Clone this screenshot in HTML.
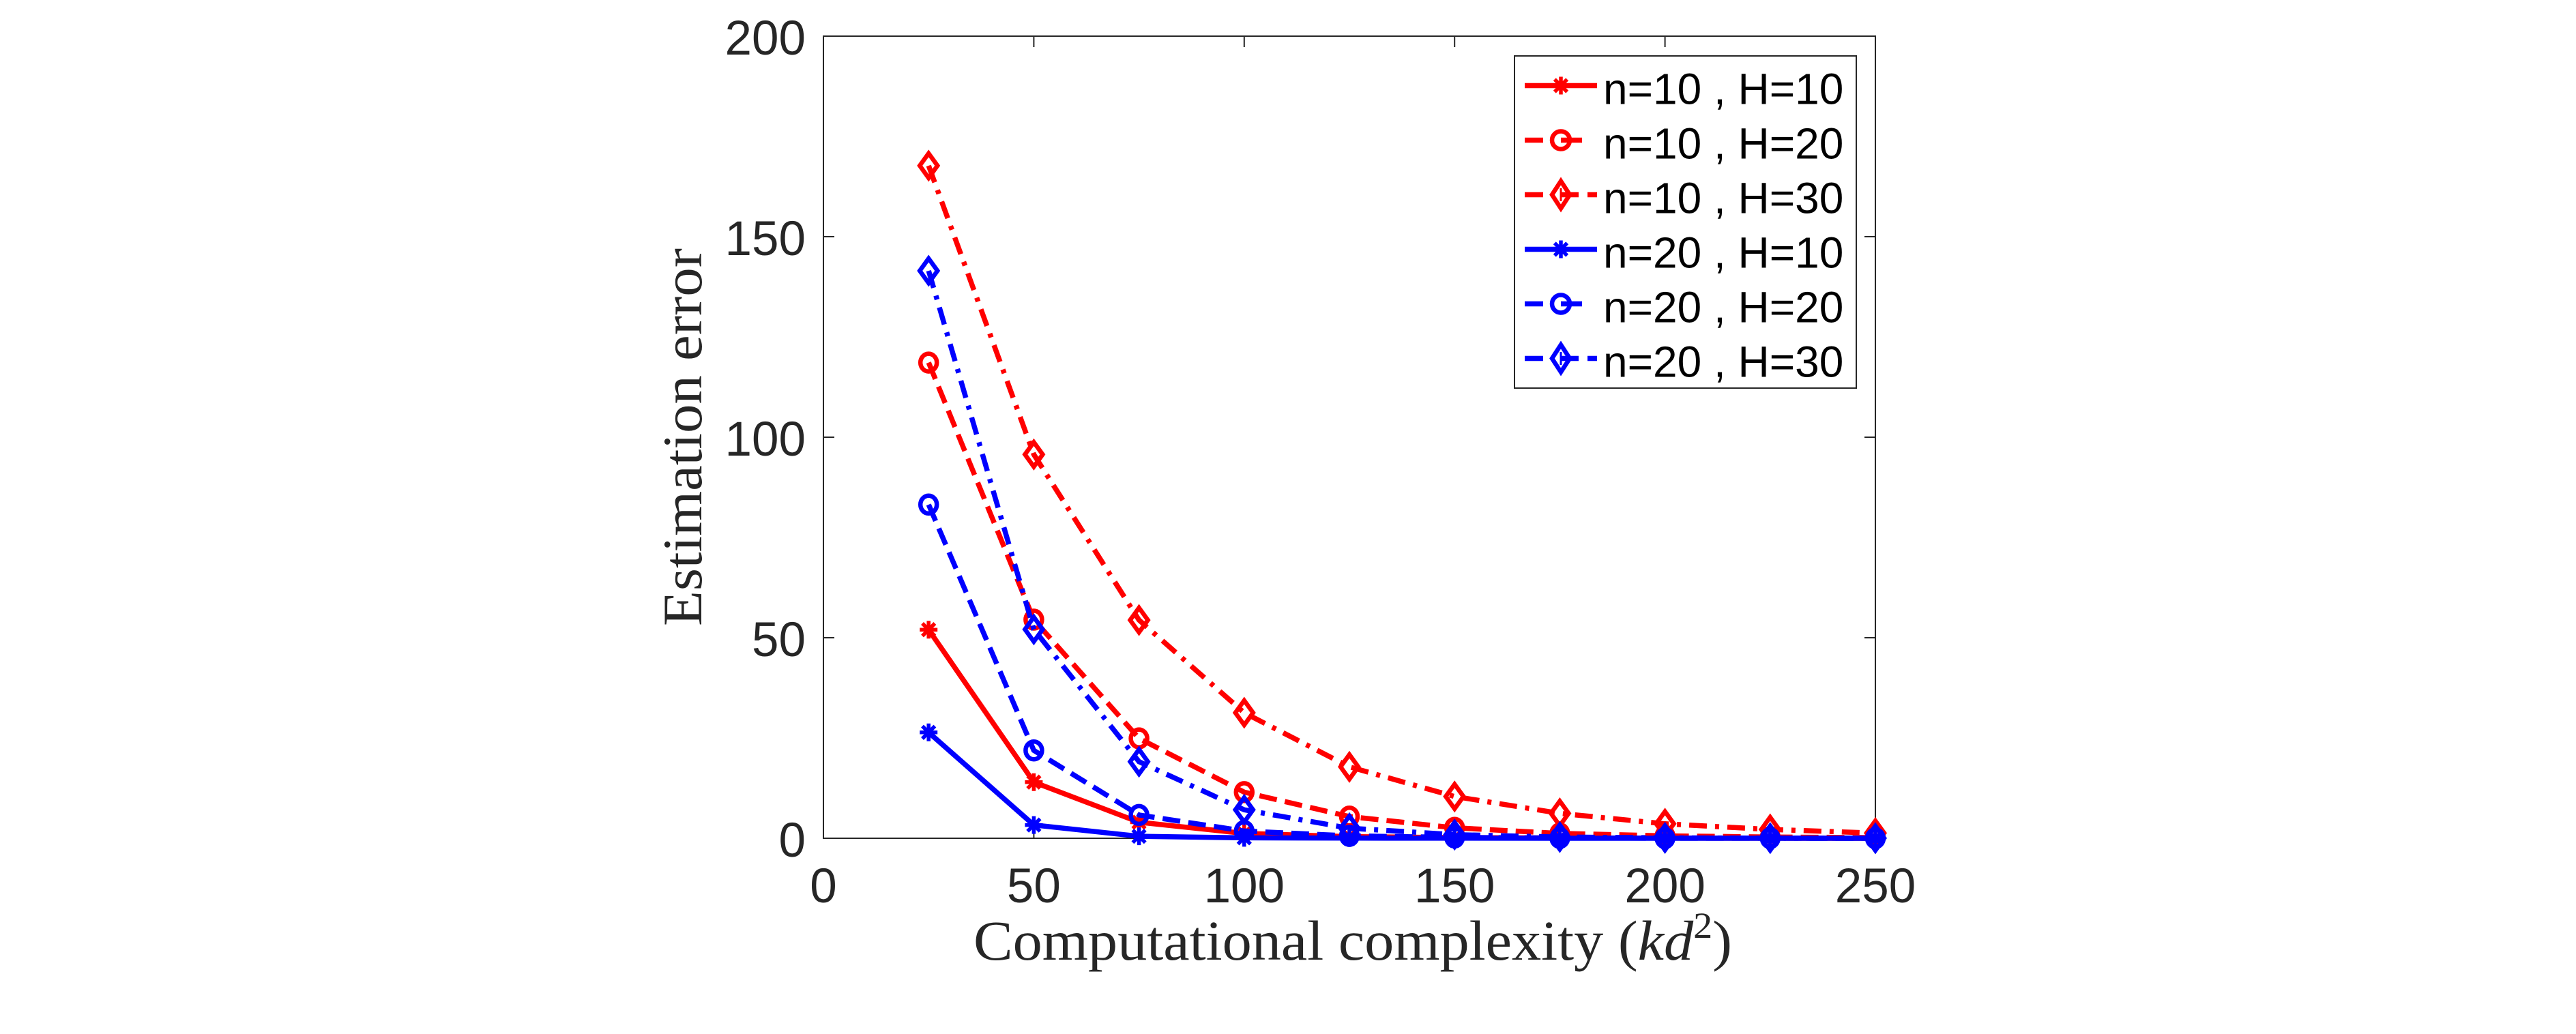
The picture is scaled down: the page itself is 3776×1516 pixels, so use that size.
<!DOCTYPE html>
<html>
<head>
<meta charset="utf-8">
<style>
html,body{margin:0;padding:0;background:#fff;}
svg{display:block;}
</style>
</head>
<body>
<svg width="3776" height="1516" viewBox="0 0 3776 1516" xmlns="http://www.w3.org/2000/svg">
<rect x="0" y="0" width="3776" height="1516" fill="#fff"/>

<!-- axes box -->
<rect x="1207" y="53" width="1542" height="1176" fill="#fff" stroke="#262626" stroke-width="2"/>

<!-- ticks -->
<g stroke="#262626" stroke-width="2">
  <path d="M1515.4 1229V1213M1823.8 1229V1213M2132.2 1229V1213M2440.6 1229V1213"/>
  <path d="M1515.4 53V69M1823.8 53V69M2132.2 53V69M2440.6 53V69"/>
  <path d="M1207 935H1223M1207 641H1223M1207 347H1223"/>
  <path d="M2749 935H2733M2749 641H2733M2749 347H2733"/>
</g>

<!-- tick labels -->
<g font-family="'Liberation Sans', Arial, sans-serif" font-size="71" fill="#262626">
  <g text-anchor="end">
    <text x="1181" y="1256">0</text>
    <text x="1181" y="962">50</text>
    <text x="1181" y="668">100</text>
    <text x="1181" y="374">150</text>
    <text x="1181" y="80">200</text>
  </g>
  <g text-anchor="middle">
    <text x="1207" y="1323">0</text>
    <text x="1515.4" y="1323">50</text>
    <text x="1823.8" y="1323">100</text>
    <text x="2132.2" y="1323">150</text>
    <text x="2440.6" y="1323">200</text>
    <text x="2749" y="1323">250</text>
  </g>
</g>

<!-- axis labels -->
<text x="1427" y="1407" font-family="'Liberation Serif', 'Times New Roman', serif" font-size="83" fill="#262626" textLength="1112" lengthAdjust="spacingAndGlyphs">Computational complexity (<tspan font-style="italic">kd</tspan><tspan font-size="54" dy="-32">2</tspan><tspan dy="32">)</tspan></text>
<text transform="translate(1028,641) rotate(-90)" text-anchor="middle" font-family="'Liberation Serif', 'Times New Roman', serif" font-size="82" fill="#262626" textLength="554" lengthAdjust="spacingAndGlyphs">Estimation error</text>

<!-- ===== Series ===== -->
<!-- Red n=10 H=10 : solid, asterisk -->
<g stroke="#ff0000" fill="none" stroke-width="7.5" stroke-linejoin="round">
  <polyline points="1361.2,923.2 1515.4,1146.7 1669.6,1205.5 1823.8,1221.9 1978,1226.6 2132.2,1228.1 2286.4,1228.6 2440.6,1228.8 2594.8,1228.9 2749,1229"/>
  <g stroke-width="5.5">
    <path transform="translate(1361.2,923.2)" d="M-13 0H13M0-13V13M-9.2-9.2L9.2 9.2M-9.2 9.2L9.2-9.2"/>
    <path transform="translate(1515.4,1146.7)" d="M-13 0H13M0-13V13M-9.2-9.2L9.2 9.2M-9.2 9.2L9.2-9.2"/>
    <path transform="translate(1669.6,1205.5)" d="M-13 0H13M0-13V13M-9.2-9.2L9.2 9.2M-9.2 9.2L9.2-9.2"/>
    <path transform="translate(1823.8,1221.9)" d="M-13 0H13M0-13V13M-9.2-9.2L9.2 9.2M-9.2 9.2L9.2-9.2"/>
    <path transform="translate(1978,1226.6)" d="M-13 0H13M0-13V13M-9.2-9.2L9.2 9.2M-9.2 9.2L9.2-9.2"/>
    <path transform="translate(2132.2,1228.1)" d="M-13 0H13M0-13V13M-9.2-9.2L9.2 9.2M-9.2 9.2L9.2-9.2"/>
    <path transform="translate(2286.4,1228.6)" d="M-13 0H13M0-13V13M-9.2-9.2L9.2 9.2M-9.2 9.2L9.2-9.2"/>
    <path transform="translate(2440.6,1228.8)" d="M-13 0H13M0-13V13M-9.2-9.2L9.2 9.2M-9.2 9.2L9.2-9.2"/>
    <path transform="translate(2594.8,1228.9)" d="M-13 0H13M0-13V13M-9.2-9.2L9.2 9.2M-9.2 9.2L9.2-9.2"/>
    <path transform="translate(2749,1229)" d="M-13 0H13M0-13V13M-9.2-9.2L9.2 9.2M-9.2 9.2L9.2-9.2"/>
  </g>
</g>

<!-- Red n=10 H=20 : dashed, circle -->
<g stroke="#ff0000" fill="none" stroke-width="7.5">
  <polyline stroke-dasharray="26 12" points="1361.2,531.6 1515.4,908.5 1669.6,1082.6 1823.8,1161.4 1978,1197.2 2132.2,1213.7 2286.4,1221.9 2440.6,1225.5 2594.8,1227.2 2749,1228.1"/>
  <g stroke-width="6.5">
    <ellipse cx="1361.2" cy="531.6" rx="12" ry="13"/>
    <ellipse cx="1515.4" cy="908.5" rx="12" ry="13"/>
    <ellipse cx="1669.6" cy="1082.6" rx="12" ry="13"/>
    <ellipse cx="1823.8" cy="1161.4" rx="12" ry="13"/>
    <ellipse cx="1978" cy="1197.2" rx="12" ry="13"/>
    <ellipse cx="2132.2" cy="1213.7" rx="12" ry="13"/>
    <ellipse cx="2286.4" cy="1221.9" rx="12" ry="13"/>
    <ellipse cx="2440.6" cy="1225.5" rx="12" ry="13"/>
    <ellipse cx="2594.8" cy="1227.2" rx="12" ry="13"/>
    <ellipse cx="2749" cy="1228.1" rx="12" ry="13"/>
  </g>
</g>

<!-- Red n=10 H=30 : dash-dot, diamond -->
<g stroke="#ff0000" fill="none" stroke-width="7.5">
  <polyline stroke-dasharray="26 12 6 12" points="1361.2,242.9 1515.4,666.3 1669.6,909.1 1823.8,1045 1978,1124.3 2132.2,1167.8 2286.4,1192.5 2440.6,1207.8 2594.8,1216.1 2749,1221.4"/>
  <g stroke-width="6.5">
    <path transform="translate(1361.2,242.9)" d="M0-18L13 0L0 18L-13 0Z"/>
    <path transform="translate(1515.4,666.3)" d="M0-18L13 0L0 18L-13 0Z"/>
    <path transform="translate(1669.6,909.1)" d="M0-18L13 0L0 18L-13 0Z"/>
    <path transform="translate(1823.8,1045)" d="M0-18L13 0L0 18L-13 0Z"/>
    <path transform="translate(1978,1124.3)" d="M0-18L13 0L0 18L-13 0Z"/>
    <path transform="translate(2132.2,1167.8)" d="M0-18L13 0L0 18L-13 0Z"/>
    <path transform="translate(2286.4,1192.5)" d="M0-18L13 0L0 18L-13 0Z"/>
    <path transform="translate(2440.6,1207.8)" d="M0-18L13 0L0 18L-13 0Z"/>
    <path transform="translate(2594.8,1216.1)" d="M0-18L13 0L0 18L-13 0Z"/>
    <path transform="translate(2749,1221.4)" d="M0-18L13 0L0 18L-13 0Z"/>
  </g>
</g>

<!-- Blue n=20 H=10 : solid, asterisk -->
<g stroke="#0000ff" fill="none" stroke-width="7.5" stroke-linejoin="round">
  <polyline points="1361.2,1073.8 1515.4,1209.6 1669.6,1226.1 1823.8,1228.4 1978,1228.8 2132.2,1228.9 2286.4,1229 2440.6,1229 2594.8,1229 2749,1229"/>
  <g stroke-width="5.5">
    <path transform="translate(1361.2,1073.8)" d="M-13 0H13M0-13V13M-9.2-9.2L9.2 9.2M-9.2 9.2L9.2-9.2"/>
    <path transform="translate(1515.4,1209.6)" d="M-13 0H13M0-13V13M-9.2-9.2L9.2 9.2M-9.2 9.2L9.2-9.2"/>
    <path transform="translate(1669.6,1226.1)" d="M-13 0H13M0-13V13M-9.2-9.2L9.2 9.2M-9.2 9.2L9.2-9.2"/>
    <path transform="translate(1823.8,1228.4)" d="M-13 0H13M0-13V13M-9.2-9.2L9.2 9.2M-9.2 9.2L9.2-9.2"/>
    <path transform="translate(1978,1228.8)" d="M-13 0H13M0-13V13M-9.2-9.2L9.2 9.2M-9.2 9.2L9.2-9.2"/>
    <path transform="translate(2132.2,1228.9)" d="M-13 0H13M0-13V13M-9.2-9.2L9.2 9.2M-9.2 9.2L9.2-9.2"/>
    <path transform="translate(2286.4,1229)" d="M-13 0H13M0-13V13M-9.2-9.2L9.2 9.2M-9.2 9.2L9.2-9.2"/>
    <path transform="translate(2440.6,1229)" d="M-13 0H13M0-13V13M-9.2-9.2L9.2 9.2M-9.2 9.2L9.2-9.2"/>
    <path transform="translate(2594.8,1229)" d="M-13 0H13M0-13V13M-9.2-9.2L9.2 9.2M-9.2 9.2L9.2-9.2"/>
    <path transform="translate(2749,1229)" d="M-13 0H13M0-13V13M-9.2-9.2L9.2 9.2M-9.2 9.2L9.2-9.2"/>
  </g>
</g>

<!-- Blue n=20 H=20 : dashed, circle -->
<g stroke="#0000ff" fill="none" stroke-width="7.5">
  <polyline stroke-dasharray="26 12" points="1361.2,739.8 1515.4,1100.2 1669.6,1194.9 1823.8,1218.4 1978,1225.5 2132.2,1227.8 2286.4,1228.6 2440.6,1228.9 2594.8,1228.9 2749,1229"/>
  <g stroke-width="6.5">
    <ellipse cx="1361.2" cy="739.8" rx="12" ry="13"/>
    <ellipse cx="1515.4" cy="1100.2" rx="12" ry="13"/>
    <ellipse cx="1669.6" cy="1194.9" rx="12" ry="13"/>
    <ellipse cx="1823.8" cy="1218.4" rx="12" ry="13"/>
    <ellipse cx="1978" cy="1225.5" rx="12" ry="13"/>
    <ellipse cx="2132.2" cy="1227.8" rx="12" ry="13"/>
    <ellipse cx="2286.4" cy="1228.6" rx="12" ry="13"/>
    <ellipse cx="2440.6" cy="1228.9" rx="12" ry="13"/>
    <ellipse cx="2594.8" cy="1228.9" rx="12" ry="13"/>
    <ellipse cx="2749" cy="1229" rx="12" ry="13"/>
  </g>
</g>

<!-- Blue n=20 H=30 : dash-dot, diamond -->
<g stroke="#0000ff" fill="none" stroke-width="7.5">
  <polyline stroke-dasharray="26 12 6 12" points="1361.2,397 1515.4,922.7 1669.6,1116.7 1823.8,1187.3 1978,1214.3 2132.2,1223.7 2286.4,1227.2 2440.6,1228.4 2594.8,1228.8 2749,1228.9"/>
  <g stroke-width="6.5">
    <path transform="translate(1361.2,397)" d="M0-18L13 0L0 18L-13 0Z"/>
    <path transform="translate(1515.4,922.7)" d="M0-18L13 0L0 18L-13 0Z"/>
    <path transform="translate(1669.6,1116.7)" d="M0-18L13 0L0 18L-13 0Z"/>
    <path transform="translate(1823.8,1187.3)" d="M0-18L13 0L0 18L-13 0Z"/>
    <path transform="translate(1978,1214.3)" d="M0-18L13 0L0 18L-13 0Z"/>
    <path transform="translate(2132.2,1223.7)" d="M0-18L13 0L0 18L-13 0Z"/>
    <path transform="translate(2286.4,1227.2)" d="M0-18L13 0L0 18L-13 0Z"/>
    <path transform="translate(2440.6,1228.4)" d="M0-18L13 0L0 18L-13 0Z"/>
    <path transform="translate(2594.8,1228.8)" d="M0-18L13 0L0 18L-13 0Z"/>
    <path transform="translate(2749,1228.9)" d="M0-18L13 0L0 18L-13 0Z"/>
  </g>
</g>

<!-- ===== Legend ===== -->
<rect x="2220" y="82" width="501" height="487" fill="#fff" stroke="#262626" stroke-width="2"/>

<!-- row 1 -->
<g stroke="#ff0000" fill="none" stroke-width="7.5">
  <path d="M2235 125.5H2341"/>
  <path stroke-width="5.5" transform="translate(2288,125.5)" d="M-13 0H13M0-13V13M-9.2-9.2L9.2 9.2M-9.2 9.2L9.2-9.2"/>
</g>
<!-- row 2 -->
<g stroke="#ff0000" fill="none" stroke-width="7.5">
  <path d="M2235 205.5H2262M2288 205.5H2319"/>
  <ellipse stroke-width="6.5" cx="2288" cy="205.5" rx="13" ry="13"/>
</g>
<!-- row 3 -->
<g stroke="#ff0000" fill="none" stroke-width="7.5">
  <path d="M2235 285.5H2262M2288 285.5H2314M2327 285.5H2341"/>
  <path stroke-width="6.5" transform="translate(2288,285.5)" d="M0-20L13 0L0 20L-13 0Z"/>
  <path stroke-width="3" d="M2288 276V295"/>
</g>
<!-- row 4 -->
<g stroke="#0000ff" fill="none" stroke-width="7.5">
  <path d="M2235 365.5H2341"/>
  <path stroke-width="5.5" transform="translate(2288,365.5)" d="M-13 0H13M0-13V13M-9.2-9.2L9.2 9.2M-9.2 9.2L9.2-9.2"/>
</g>
<!-- row 5 -->
<g stroke="#0000ff" fill="none" stroke-width="7.5">
  <path d="M2235 445.5H2262M2288 445.5H2319"/>
  <ellipse stroke-width="6.5" cx="2288" cy="445.5" rx="13" ry="13"/>
</g>
<!-- row 6 -->
<g stroke="#0000ff" fill="none" stroke-width="7.5">
  <path d="M2235 525.5H2262M2288 525.5H2314M2327 525.5H2341"/>
  <path stroke-width="6.5" transform="translate(2288,525.5)" d="M0-20L13 0L0 20L-13 0Z"/>
  <path stroke-width="3" d="M2288 516V535"/>
</g>

<g font-family="'Liberation Sans', Arial, sans-serif" font-size="64" fill="#000">
  <text x="2350" y="152.5">n=10 , H=10</text>
  <text x="2350" y="232.5">n=10 , H=20</text>
  <text x="2350" y="312.5">n=10 , H=30</text>
  <text x="2350" y="392.5">n=20 , H=10</text>
  <text x="2350" y="472.5">n=20 , H=20</text>
  <text x="2350" y="552.5">n=20 , H=30</text>
</g>
</svg>
</body>
</html>
